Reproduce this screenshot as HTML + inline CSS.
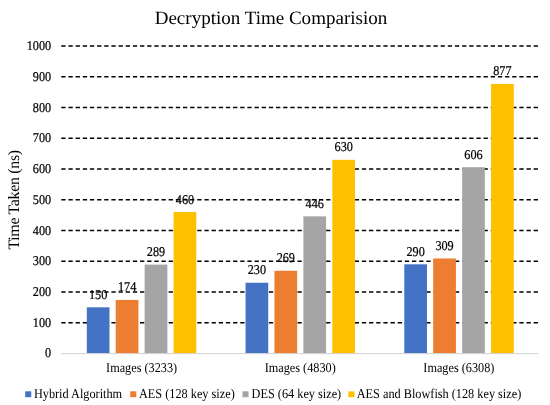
<!DOCTYPE html><html><head><meta charset="utf-8"><title>Decryption Time Comparision</title>
<style>html,body{margin:0;padding:0;background:#fff}body{width:550px;height:405px;overflow:hidden}svg{display:block}text{font-family:"Liberation Serif","Times New Roman",serif;text-rendering:geometricPrecision;fill:#000;stroke:none}.d{stroke:#000;stroke-width:0.2px}</style></head><body>
<svg width="550" height="405" viewBox="0 0 550 405">
<rect width="550" height="405" fill="#fff"/>
<text transform="translate(270.95 24.35) scale(1 0.99)" font-size="19.05" text-anchor="middle">Decryption Time Comparision</text>
<line x1="61.3" y1="322.69" x2="538.2" y2="322.69" stroke="#000" stroke-width="1.5" stroke-dasharray="4.3 2.857"/>
<line x1="61.3" y1="291.96" x2="538.2" y2="291.96" stroke="#000" stroke-width="1.5" stroke-dasharray="4.3 2.857"/>
<line x1="61.3" y1="261.23" x2="538.2" y2="261.23" stroke="#000" stroke-width="1.5" stroke-dasharray="4.3 2.857"/>
<line x1="61.3" y1="230.50" x2="538.2" y2="230.50" stroke="#000" stroke-width="1.5" stroke-dasharray="4.3 2.857"/>
<line x1="61.3" y1="199.77" x2="538.2" y2="199.77" stroke="#000" stroke-width="1.5" stroke-dasharray="4.3 2.857"/>
<line x1="61.3" y1="169.04" x2="538.2" y2="169.04" stroke="#000" stroke-width="1.5" stroke-dasharray="4.3 2.857"/>
<line x1="61.3" y1="138.31" x2="538.2" y2="138.31" stroke="#000" stroke-width="1.5" stroke-dasharray="4.3 2.857"/>
<line x1="61.3" y1="107.58" x2="538.2" y2="107.58" stroke="#000" stroke-width="1.5" stroke-dasharray="4.3 2.857"/>
<line x1="61.3" y1="76.85" x2="538.2" y2="76.85" stroke="#000" stroke-width="1.5" stroke-dasharray="4.3 2.857"/>
<line x1="61.3" y1="46.12" x2="538.2" y2="46.12" stroke="#000" stroke-width="1.5" stroke-dasharray="4.3 2.857"/>
<text transform="translate(51.20 357.45) scale(1 1.1)" font-size="12.24" text-anchor="end" class="d">0</text>
<text transform="translate(51.20 326.79) scale(1 1.1)" font-size="12.24" text-anchor="end" class="d">100</text>
<text transform="translate(51.20 296.06) scale(1 1.1)" font-size="12.24" text-anchor="end" class="d">200</text>
<text transform="translate(51.20 265.33) scale(1 1.1)" font-size="12.24" text-anchor="end" class="d">300</text>
<text transform="translate(51.20 234.60) scale(1 1.1)" font-size="12.24" text-anchor="end" class="d">400</text>
<text transform="translate(51.20 203.87) scale(1 1.1)" font-size="12.24" text-anchor="end" class="d">500</text>
<text transform="translate(51.20 173.14) scale(1 1.1)" font-size="12.24" text-anchor="end" class="d">600</text>
<text transform="translate(51.20 142.41) scale(1 1.1)" font-size="12.24" text-anchor="end" class="d">700</text>
<text transform="translate(51.20 111.68) scale(1 1.1)" font-size="12.24" text-anchor="end" class="d">800</text>
<text transform="translate(51.20 80.95) scale(1 1.1)" font-size="12.24" text-anchor="end" class="d">900</text>
<text transform="translate(51.20 50.22) scale(1 1.1)" font-size="12.24" text-anchor="end" class="d">1000</text>
<rect x="86.79" y="307.32" width="22.7" height="45.93" fill="#4472C4"/>
<text transform="translate(98.14 298.82) scale(1 1.1)" font-size="12.24" text-anchor="middle" class="d">150</text>
<rect x="115.72" y="299.95" width="22.7" height="53.30" fill="#ED7D31"/>
<text transform="translate(127.07 291.45) scale(1 1.1)" font-size="12.24" text-anchor="middle" class="d">174</text>
<rect x="144.65" y="264.61" width="22.7" height="88.64" fill="#A5A5A5"/>
<text transform="translate(156.00 256.11) scale(1 1.1)" font-size="12.24" text-anchor="middle" class="d">289</text>
<rect x="173.58" y="212.06" width="22.7" height="141.19" fill="#FFC000"/>
<text transform="translate(184.93 203.56) scale(1 1.1)" font-size="12.24" text-anchor="middle" class="d">460</text>
<text transform="translate(141.58 371.80) scale(1 1.1)" font-size="12.24" text-anchor="middle">Images (3233)</text>
<rect x="245.53" y="282.74" width="22.7" height="70.51" fill="#4472C4"/>
<text transform="translate(256.88 274.24) scale(1 1.1)" font-size="12.24" text-anchor="middle" class="d">230</text>
<rect x="274.46" y="270.76" width="22.7" height="82.49" fill="#ED7D31"/>
<text transform="translate(285.81 262.26) scale(1 1.1)" font-size="12.24" text-anchor="middle" class="d">269</text>
<rect x="303.39" y="216.36" width="22.7" height="136.89" fill="#A5A5A5"/>
<text transform="translate(314.75 207.86) scale(1 1.1)" font-size="12.24" text-anchor="middle" class="d">446</text>
<rect x="332.32" y="159.82" width="22.7" height="193.43" fill="#FFC000"/>
<text transform="translate(343.68 151.32) scale(1 1.1)" font-size="12.24" text-anchor="middle" class="d">630</text>
<text transform="translate(300.20 371.80) scale(1 1.1)" font-size="12.24" text-anchor="middle">Images (4830)</text>
<rect x="404.28" y="264.30" width="22.7" height="88.95" fill="#4472C4"/>
<text transform="translate(415.63 255.80) scale(1 1.1)" font-size="12.24" text-anchor="middle" class="d">290</text>
<rect x="433.21" y="258.46" width="22.7" height="94.79" fill="#ED7D31"/>
<text transform="translate(444.56 249.96) scale(1 1.1)" font-size="12.24" text-anchor="middle" class="d">309</text>
<rect x="462.14" y="167.20" width="22.7" height="186.05" fill="#A5A5A5"/>
<text transform="translate(473.49 158.70) scale(1 1.1)" font-size="12.24" text-anchor="middle" class="d">606</text>
<rect x="491.07" y="83.92" width="22.7" height="269.33" fill="#FFC000"/>
<text transform="translate(502.42 75.42) scale(1 1.1)" font-size="12.24" text-anchor="middle" class="d">877</text>
<text transform="translate(458.82 371.80) scale(1 1.1)" font-size="12.24" text-anchor="middle">Images (6308)</text>
<line x1="61.599999999999994" y1="353.65" x2="538.2" y2="353.65" stroke="#D0D0D0" stroke-width="1"/>
<text transform="translate(19.45,199.9) rotate(-90)" font-size="15.9" letter-spacing="-0.3" text-anchor="middle">Time Taken (ns)</text>
<rect x="25.2" y="391.3" width="6.05" height="5.9" fill="#4472C4"/>
<text transform="translate(33.90 398.00) scale(1 1.1)" font-size="12.28">Hybrid Algorithm</text>
<rect x="130.2" y="391.3" width="6.05" height="5.9" fill="#ED7D31"/>
<text transform="translate(139.00 398.00) scale(1 1.1)" font-size="12.28">AES (128 key size)</text>
<rect x="242.5" y="391.3" width="6.05" height="5.9" fill="#A5A5A5"/>
<text transform="translate(251.60 398.00) scale(1 1.1)" font-size="12.28">DES (64 key size)</text>
<rect x="348.4" y="391.3" width="6.05" height="5.9" fill="#FFC000"/>
<text transform="translate(356.70 398.00) scale(1 1.1)" font-size="12.28">AES and Blowfish (128 key size)</text>
</svg></body></html>
